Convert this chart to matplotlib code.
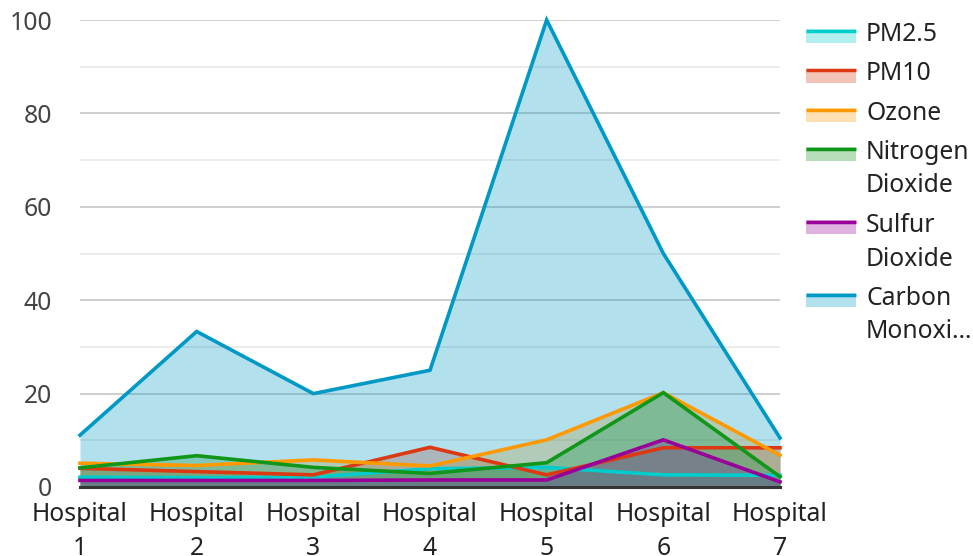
import matplotlib
matplotlib.use("Agg")
import matplotlib.pyplot as plt
from matplotlib.patches import Rectangle
from matplotlib.lines import Line2D
import numpy as np

plt.rcParams['font.family'] = ['Noto Sans', 'DejaVu Sans']

hospitals = ["Hospital\n1", "Hospital\n2", "Hospital\n3", "Hospital\n4",
             "Hospital\n5", "Hospital\n6", "Hospital\n7"]

pm25 = [2.1, 2.0, 2.1, 3.9, 4.2, 2.6, 2.5]
pm10 = [4.0, 3.3, 2.6, 8.5, 2.6, 8.4, 8.4]
ozone = [5.1, 4.6, 5.8, 4.5, 10.1, 20.2, 6.8]
no2 = [4.1, 6.7, 4.2, 2.9, 5.2, 20.2, 2.2]
so2 = [1.4, 1.4, 1.4, 1.5, 1.5, 10.1, 1.1]
co = [11.1, 33.3, 20.0, 25.0, 100.0, 50.0, 10.5]

series_names = ["PM2.5", "PM10", "Ozone", "Nitrogen\nDioxide", "Sulfur\nDioxide", "Carbon\nMonoxi…"]
series_values = [pm25, pm10, ozone, no2, so2, co]
series_colors = ["#00cccc", "#dc3912", "#ff9900", "#109618", "#990099", "#0099c6"]

y_major = [0, 20, 40, 60, 80, 100]
y_minor = [10, 30, 50, 70, 90]

FS = 17.8
W, H = 973, 556
fig = plt.figure(figsize=(W / 100, H / 100), dpi=100)
ax = fig.add_axes([80 / W, 1 - 487 / H, 700 / W, 467 / H])

x = np.arange(len(hospitals))

# filled areas first, then lines on top
for vals, col in zip(series_values, series_colors):
    ax.fill_between(x, 0, vals, color=col, alpha=0.3, linewidth=0, zorder=2)
for vals, col in zip(series_values, series_colors):
    ax.plot(x, vals, color=col, linewidth=2.6, zorder=4, clip_on=False,
            solid_joinstyle='miter')

ax.set_xlim(0, len(hospitals) - 1)
ax.set_ylim(0, 100)
ax.set_xticks(x)
ax.set_xticklabels(hospitals, fontsize=FS, color="#222222", linespacing=1.45)
ax.set_yticks(y_major)
ax.set_yticklabels([str(v) for v in y_major], fontsize=FS, color="#444444")
ax.set_yticks(y_minor, minor=True)
ax.tick_params(axis='both', which='both', length=0)
ax.tick_params(axis='x', pad=11)
ax.tick_params(axis='y', pad=20)

for v in y_major[1:]:
    ax.axhline(v, color="#cccccc", linewidth=1.3, zorder=1)
for v in y_minor:
    ax.axhline(v, color="#ebebeb", linewidth=1.3, zorder=1)
ax.axhline(0, color="#333333", linewidth=2.2, zorder=5, clip_on=False)

for s in ax.spines.values():
    s.set_visible(False)

# legend on the right
baselines = [[41], [80.5], [120], [159, 192.5], [232, 265.5], [305, 338.5]]
for name, col, bl in zip(series_names, series_colors, baselines):
    top = bl[0] - 12
    fig.add_artist(Rectangle((806 / W, 1 - (top + 14) / H), 50 / W, 14 / H,
                             transform=fig.transFigure, facecolor=col,
                             alpha=0.3, linewidth=0))
    fig.add_artist(Line2D([806 / W, 856 / W], [1 - (top + 1.7) / H] * 2,
                          transform=fig.transFigure, color=col, linewidth=2.5,
                          solid_capstyle='butt'))
    for line, b in zip(name.split("\n"), bl):
        fig.text(866 / W, 1 - b / H, line, fontsize=FS, color="#222222",
                 va='baseline', ha='left')

fig.savefig("out.png", dpi=100)
